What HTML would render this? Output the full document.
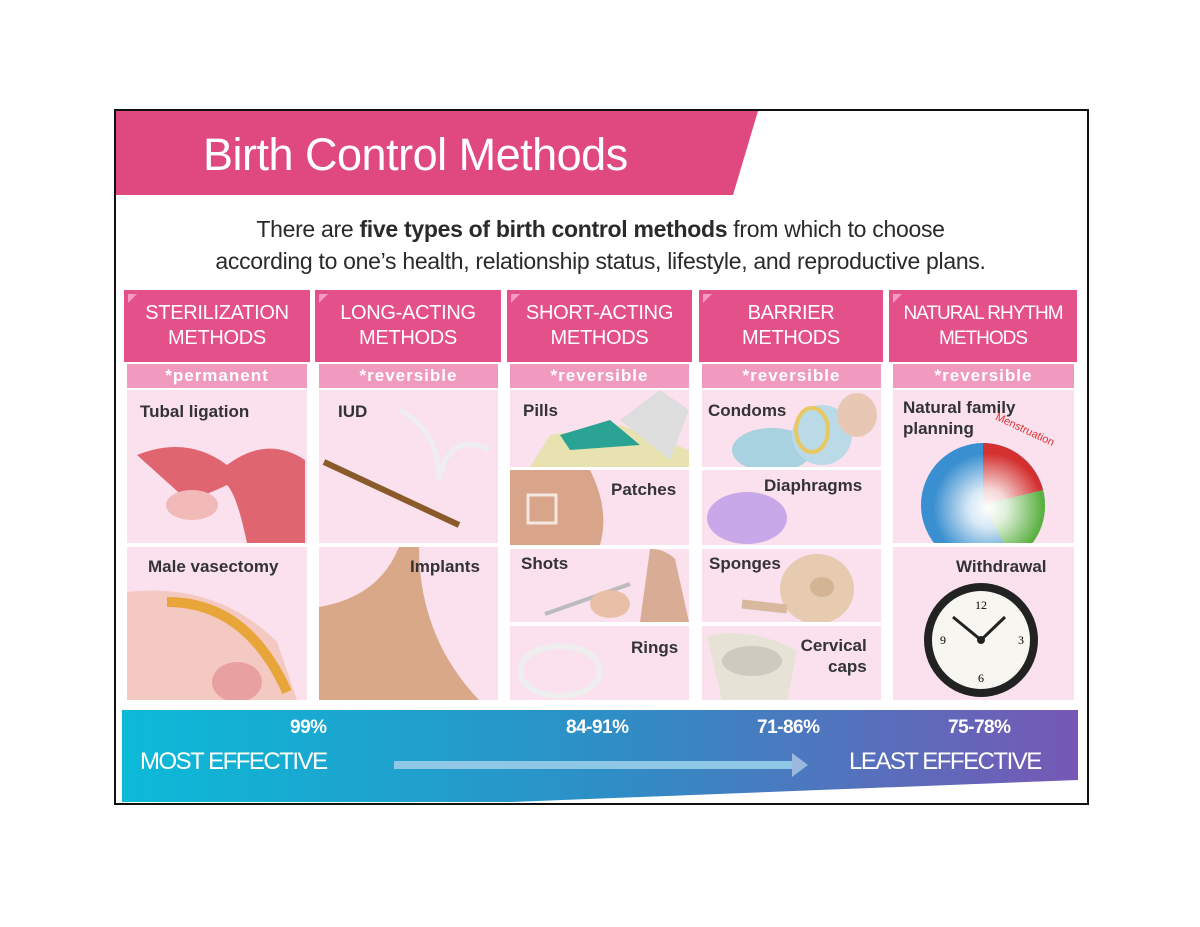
<!DOCTYPE html>
<html><head><meta charset="utf-8"><style>
body{margin:0;width:1200px;height:927px;background:#fff;position:relative;overflow:hidden;font-family:"Liberation Sans",sans-serif}
.a{position:absolute}
.frame{left:114px;top:109px;width:971px;height:692px;border:2px solid #111}
.hd{background:#e4508a;color:#fff;text-align:center;font-size:20px;line-height:25px;padding-top:11px;box-sizing:border-box;height:72px;top:290px;white-space:nowrap;letter-spacing:-0.3px}
.hd:before{content:"";position:absolute;left:4px;top:4px;border-left:9px solid #f59bc0;border-bottom:9px solid transparent}
.sb{background:#f09ac0;color:#fff;text-align:center;font-weight:bold;font-size:17px;line-height:24px;top:364px;height:24px;letter-spacing:1px}
.c{background:#fbe0ee;overflow:hidden}
.l{position:absolute;font-weight:bold;font-size:17px;color:#333;line-height:21px;z-index:2}
.c svg{z-index:1}
.pc{color:#fff;font-weight:bold;font-size:19px;top:717px;letter-spacing:-0.5px}
.ef{color:#fff;font-size:24px;top:748px;letter-spacing:-1.5px}
</style></head><body>
<div class="a frame"></div>
<svg class="a" style="left:116px;top:111px" width="650" height="86"><polygon points="0,0 642,0 617,84 0,84" fill="#e0497f"/></svg>
<div class="a" style="left:203px;top:129px;font-size:45px;color:#fff;letter-spacing:-0.5px">Birth Control Methods</div>
<div class="a" style="left:114px;width:973px;top:213px;text-align:center;font-size:23px;line-height:32px;color:#2a2a2a;letter-spacing:-0.3px">There are <b>five types of birth control methods</b> from which to choose<br>according to one’s health, relationship status, lifestyle, and reproductive plans.</div>

<div class="a hd" style="left:124px;width:186px">STERILIZATION<br>METHODS</div>
<div class="a hd" style="left:315px;width:186px">LONG-ACTING<br>METHODS</div>
<div class="a hd" style="left:507px;width:185px">SHORT-ACTING<br>METHODS</div>
<div class="a hd" style="left:699px;width:184px">BARRIER<br>METHODS</div>
<div class="a hd" style="left:889px;width:188px;font-size:19px;letter-spacing:-1px">NATURAL RHYTHM<br>METHODS</div>

<div class="a sb" style="left:127px;width:180px">*permanent</div>
<div class="a sb" style="left:319px;width:179px">*reversible</div>
<div class="a sb" style="left:510px;width:179px">*reversible</div>
<div class="a sb" style="left:702px;width:179px">*reversible</div>
<div class="a sb" style="left:893px;width:181px">*reversible</div>

<!-- col1 -->
<div class="a c" style="left:127px;top:390px;width:180px;height:153px"><span class="l" style="left:13px;top:11px">Tubal ligation</span>
<svg class="a" style="left:0;top:35px" width="180" height="118"><path d="M10,30 Q60,10 100,40 Q140,10 178,35 L178,118 L120,118 Q110,70 100,60 Q80,70 60,75" fill="#d9505a" opacity=".85"/><ellipse cx="65" cy="80" rx="26" ry="15" fill="#f2b9b9"/></svg></div>
<div class="a c" style="left:127px;top:547px;width:180px;height:153px"><span class="l" style="left:21px;top:9px">Male vasectomy</span>
<svg class="a" style="left:0;top:35px" width="180" height="118"><path d="M0,10 Q90,0 150,60 L170,118 L0,118Z" fill="#f3c9c2"/><path d="M40,20 Q120,20 160,110" stroke="#e8a53a" stroke-width="10" fill="none"/><ellipse cx="110" cy="100" rx="25" ry="20" fill="#e8a0a0"/></svg></div>
<!-- col2 -->
<div class="a c" style="left:319px;top:390px;width:179px;height:153px"><span class="l" style="left:19px;top:11px">IUD</span>
<svg class="a" style="left:0;top:0" width="179" height="153"><path d="M5,72 L140,135" stroke="#8a5a2a" stroke-width="6"/><path d="M80,20 Q120,40 120,90 Q130,40 170,60" stroke="#eee" stroke-width="5" fill="none"/></svg></div>
<div class="a c" style="left:319px;top:547px;width:179px;height:153px"><span class="l" style="left:91px;top:9px">Implants</span>
<svg class="a" style="left:0;top:0" width="179" height="153"><path d="M0,60 Q60,50 80,0 L100,0 Q100,90 160,153 L0,153Z" fill="#d9a888"/></svg></div>
<!-- col3 -->
<div class="a c" style="left:510px;top:390px;width:179px;height:77px"><span class="l" style="left:13px;top:10px">Pills</span>
<svg class="a" style="left:0;top:0" width="179" height="77"><polygon points="20,77 40,45 110,35 179,60 179,77" fill="#e8e2b0"/><polygon points="50,45 100,30 130,55 60,60" fill="#2aa395"/><polygon points="110,30 150,0 179,20 160,70" fill="#ddd"/></svg></div>
<div class="a c" style="left:510px;top:470px;width:179px;height:75px"><span class="l" style="left:101px;top:9px">Patches</span>
<svg class="a" style="left:0;top:0" width="179" height="75"><path d="M0,0 L80,0 Q100,40 90,75 L0,75Z" fill="#d9a58a"/><rect x="18" y="25" width="28" height="28" fill="none" stroke="#f5e6e0" stroke-width="3"/></svg></div>
<div class="a c" style="left:510px;top:549px;width:179px;height:73px"><span class="l" style="left:11px;top:4px">Shots</span>
<svg class="a" style="left:0;top:0" width="179" height="73"><path d="M140,0 Q155,0 165,10 L179,73 L130,73Z" fill="#d9ad95"/><path d="M35,65 L120,35" stroke="#bbb" stroke-width="4"/><ellipse cx="100" cy="55" rx="20" ry="14" fill="#e8c0a8"/></svg></div>
<div class="a c" style="left:510px;top:626px;width:179px;height:74px"><span class="l" style="left:121px;top:11px">Rings</span>
<svg class="a" style="left:0;top:0" width="179" height="74"><ellipse cx="50" cy="45" rx="40" ry="25" fill="none" stroke="#eee" stroke-width="6"/></svg></div>
<!-- col4 -->
<div class="a c" style="left:702px;top:390px;width:179px;height:77px"><span class="l" style="left:6px;top:10px">Condoms</span>
<svg class="a" style="left:0;top:0" width="179" height="77"><ellipse cx="70" cy="60" rx="40" ry="22" fill="#a8d2df"/><ellipse cx="120" cy="45" rx="30" ry="30" fill="#b9dae6"/><ellipse cx="110" cy="40" rx="16" ry="22" fill="none" stroke="#e8c860" stroke-width="4"/><ellipse cx="155" cy="25" rx="20" ry="22" fill="#e8c8b4"/></svg></div>
<div class="a c" style="left:702px;top:470px;width:179px;height:75px"><span class="l" style="left:62px;top:5px">Diaphragms</span>
<svg class="a" style="left:0;top:0" width="179" height="75"><ellipse cx="45" cy="48" rx="40" ry="26" fill="#c8a8e8"/></svg></div>
<div class="a c" style="left:702px;top:549px;width:179px;height:73px"><span class="l" style="left:7px;top:4px">Sponges</span>
<svg class="a" style="left:0;top:0" width="179" height="73"><ellipse cx="115" cy="40" rx="37" ry="35" fill="#e6cbb0"/><ellipse cx="120" cy="38" rx="12" ry="10" fill="#d3b495"/><path d="M40,55 L85,60" stroke="#d9b8a0" stroke-width="9"/></svg></div>
<div class="a c" style="left:702px;top:626px;width:179px;height:74px"><span class="l" style="left:96px;top:9px;text-align:right">Cervical<br><span style="padding-left:30px">caps</span></span>
<svg class="a" style="left:0;top:0" width="179" height="74"><path d="M5,10 Q50,0 95,25 L85,74 L20,74Z" fill="#e6e2d6"/><ellipse cx="50" cy="35" rx="30" ry="15" fill="#cfcac0"/></svg></div>
<!-- col5 -->
<div class="a c" style="left:893px;top:390px;width:181px;height:153px"><span class="l" style="left:10px;top:7px">Natural family<br>planning</span>
<span class="a" style="left:100px;top:34px;font-size:11px;color:#d33;transform:rotate(25deg)">Menstruation</span>
<svg class="a" style="left:0;top:0" width="181" height="153"><defs><radialGradient id="g"><stop offset="0" stop-color="#fff"/><stop offset=".35" stop-color="#fff" stop-opacity=".8"/><stop offset="1" stop-color="#fff" stop-opacity="0"/></radialGradient></defs>
<circle cx="90" cy="115" r="62" fill="#3a8fd0"/><path d="M90,115 L90,53 A62,62 0 0,1 150,100Z" fill="#d43030"/><path d="M90,115 L150,100 A62,62 0 0,1 120,170Z" fill="#5ab040"/><circle cx="95" cy="118" r="55" fill="url(#g)"/></svg></div>
<div class="a c" style="left:893px;top:547px;width:181px;height:153px"><span class="l" style="left:63px;top:9px">Withdrawal</span>
<svg class="a" style="left:0;top:0" width="181" height="153"><circle cx="88" cy="93" r="57" fill="#222"/><circle cx="88" cy="93" r="49" fill="#f8f6f0"/><path d="M60,70 L88,93 L112,70" stroke="#222" stroke-width="3" fill="none"/><circle cx="88" cy="93" r="4" fill="#222"/>
<text x="88" y="62" font-size="12" text-anchor="middle" font-family="Liberation Serif">12</text><text x="128" y="97" font-size="12" text-anchor="middle" font-family="Liberation Serif">3</text><text x="88" y="135" font-size="12" text-anchor="middle" font-family="Liberation Serif">6</text><text x="50" y="97" font-size="12" text-anchor="middle" font-family="Liberation Serif">9</text></svg></div>

<!-- bottom bar -->
<svg class="a" style="left:122px;top:710px" width="956" height="92"><defs><linearGradient id="b" x1="0" x2="1"><stop offset="0" stop-color="#0cbad8"/><stop offset=".5" stop-color="#2d8fc6"/><stop offset="1" stop-color="#7658b5"/></linearGradient></defs>
<polygon points="0,0 956,0 956,70 390,92 0,92" fill="url(#b)"/>
<rect x="272" y="51" width="400" height="8" fill="#8ec8e6"/><polygon points="670,43 686,55 670,67" fill="#9ab8e0"/></svg>
<div class="a pc" style="left:290px">99%</div>
<div class="a pc" style="left:566px">84-91%</div>
<div class="a pc" style="left:757px">71-86%</div>
<div class="a pc" style="left:948px">75-78%</div>
<div class="a ef" style="left:140px">MOST EFFECTIVE</div>
<div class="a ef" style="left:849px">LEAST EFFECTIVE</div>
</body></html>
